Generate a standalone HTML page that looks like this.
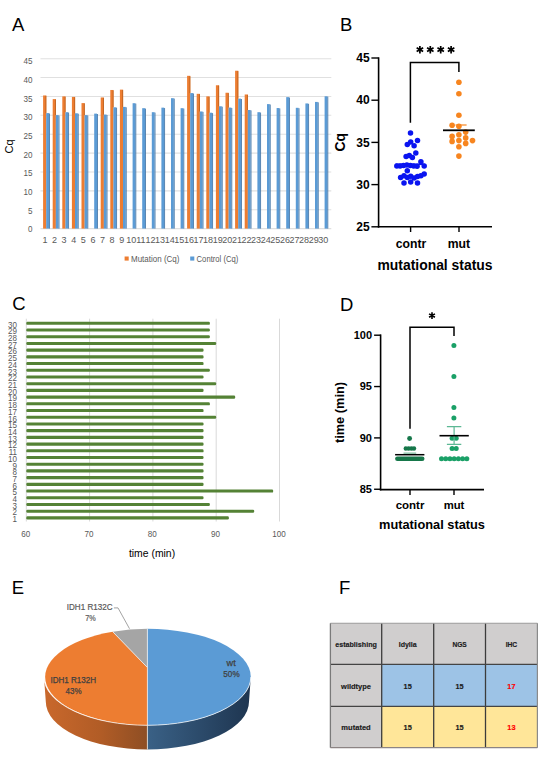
<!DOCTYPE html>
<html><head><meta charset="utf-8"><style>
html,body{margin:0;padding:0;background:#fff;width:550px;height:769px;overflow:hidden}
svg{display:block}
text{font-family:"Liberation Sans",sans-serif}
</style></head><body>
<svg width="550" height="769" viewBox="0 0 550 769">
<rect width="550" height="769" fill="#fff"/>
<g id="A">
<text x="12" y="31" font-size="18.5" fill="#000">A</text>
<line x1="40.5" x2="331.3" y1="228.60" y2="228.60" stroke="#e0e0e0" stroke-width="1.1"/>
<text transform="translate(32.6,232.19) scale(0.9,1)" font-size="9" fill="#595959" text-anchor="end">0</text>
<line x1="40.5" x2="331.3" y1="209.72" y2="209.72" stroke="#e0e0e0" stroke-width="1.1"/>
<text transform="translate(32.6,213.54) scale(0.9,1)" font-size="9" fill="#595959" text-anchor="end">5</text>
<line x1="40.5" x2="331.3" y1="190.84" y2="190.84" stroke="#e0e0e0" stroke-width="1.1"/>
<text transform="translate(32.6,194.88) scale(0.9,1)" font-size="9" fill="#595959" text-anchor="end">10</text>
<line x1="40.5" x2="331.3" y1="171.96" y2="171.96" stroke="#e0e0e0" stroke-width="1.1"/>
<text transform="translate(32.6,176.23) scale(0.9,1)" font-size="9" fill="#595959" text-anchor="end">15</text>
<line x1="40.5" x2="331.3" y1="153.08" y2="153.08" stroke="#e0e0e0" stroke-width="1.1"/>
<text transform="translate(32.6,157.57) scale(0.9,1)" font-size="9" fill="#595959" text-anchor="end">20</text>
<line x1="40.5" x2="331.3" y1="134.20" y2="134.20" stroke="#e0e0e0" stroke-width="1.1"/>
<text transform="translate(32.6,138.92) scale(0.9,1)" font-size="9" fill="#595959" text-anchor="end">25</text>
<line x1="40.5" x2="331.3" y1="115.32" y2="115.32" stroke="#e0e0e0" stroke-width="1.1"/>
<text transform="translate(32.6,120.27) scale(0.9,1)" font-size="9" fill="#595959" text-anchor="end">30</text>
<line x1="40.5" x2="331.3" y1="96.44" y2="96.44" stroke="#e0e0e0" stroke-width="1.1"/>
<text transform="translate(32.6,101.61) scale(0.9,1)" font-size="9" fill="#595959" text-anchor="end">35</text>
<line x1="40.5" x2="331.3" y1="77.56" y2="77.56" stroke="#e0e0e0" stroke-width="1.1"/>
<text transform="translate(32.6,82.95) scale(0.9,1)" font-size="9" fill="#595959" text-anchor="end">40</text>
<line x1="40.5" x2="331.3" y1="58.68" y2="58.68" stroke="#e0e0e0" stroke-width="1.1"/>
<text transform="translate(32.6,64.30) scale(0.9,1)" font-size="9" fill="#595959" text-anchor="end">45</text>
<rect x="43.10" y="95.46" width="3.2" height="133.14" fill="#ed7d31"/>
<rect x="45.50" y="95.86" width="0.8" height="17.23" fill="#b9601f"/>
<rect x="46.20" y="113.09" width="2.8" height="115.51" fill="#5b9bd5"/>
<rect x="49.00" y="113.49" width="0.85" height="115.11" fill="#3f73a6"/>
<text x="44.90" y="243" font-size="9" fill="#595959" text-anchor="middle">1</text>
<rect x="52.70" y="99.08" width="3.2" height="129.52" fill="#ed7d31"/>
<rect x="55.10" y="99.48" width="0.8" height="15.61" fill="#b9601f"/>
<rect x="55.80" y="115.09" width="2.8" height="113.51" fill="#5b9bd5"/>
<rect x="58.60" y="115.49" width="0.85" height="113.11" fill="#3f73a6"/>
<text x="54.50" y="243" font-size="9" fill="#595959" text-anchor="middle">2</text>
<rect x="62.30" y="96.36" width="3.2" height="132.24" fill="#ed7d31"/>
<rect x="64.70" y="96.76" width="0.8" height="15.42" fill="#b9601f"/>
<rect x="65.40" y="112.19" width="2.8" height="116.41" fill="#5b9bd5"/>
<rect x="68.20" y="112.59" width="0.85" height="116.01" fill="#3f73a6"/>
<text x="64.10" y="243" font-size="9" fill="#595959" text-anchor="middle">3</text>
<rect x="71.90" y="96.89" width="3.2" height="131.71" fill="#ed7d31"/>
<rect x="74.30" y="97.29" width="0.8" height="15.99" fill="#b9601f"/>
<rect x="75.00" y="113.28" width="2.8" height="115.32" fill="#5b9bd5"/>
<rect x="77.80" y="113.68" width="0.85" height="114.92" fill="#3f73a6"/>
<text x="73.70" y="243" font-size="9" fill="#595959" text-anchor="middle">4</text>
<rect x="81.50" y="103.09" width="3.2" height="125.51" fill="#ed7d31"/>
<rect x="83.90" y="103.49" width="0.8" height="11.61" fill="#b9601f"/>
<rect x="84.60" y="115.09" width="2.8" height="113.51" fill="#5b9bd5"/>
<rect x="87.40" y="115.49" width="0.85" height="113.11" fill="#3f73a6"/>
<text x="83.30" y="243" font-size="9" fill="#595959" text-anchor="middle">5</text>
<rect x="94.20" y="113.62" width="2.8" height="114.98" fill="#5b9bd5"/>
<rect x="97.00" y="114.02" width="0.85" height="114.58" fill="#3f73a6"/>
<text x="92.90" y="243" font-size="9" fill="#595959" text-anchor="middle">6</text>
<rect x="100.70" y="97.46" width="3.2" height="131.14" fill="#ed7d31"/>
<rect x="103.10" y="97.86" width="0.8" height="16.71" fill="#b9601f"/>
<rect x="103.80" y="114.56" width="2.8" height="114.04" fill="#5b9bd5"/>
<rect x="106.60" y="114.96" width="0.85" height="113.64" fill="#3f73a6"/>
<text x="102.50" y="243" font-size="9" fill="#595959" text-anchor="middle">7</text>
<rect x="110.30" y="89.98" width="3.2" height="138.62" fill="#ed7d31"/>
<rect x="112.70" y="90.38" width="0.8" height="16.89" fill="#b9601f"/>
<rect x="113.40" y="107.28" width="2.8" height="121.32" fill="#5b9bd5"/>
<rect x="116.20" y="107.68" width="0.85" height="120.92" fill="#3f73a6"/>
<text x="112.10" y="243" font-size="9" fill="#595959" text-anchor="middle">8</text>
<rect x="119.90" y="89.64" width="3.2" height="138.96" fill="#ed7d31"/>
<rect x="122.30" y="90.04" width="0.8" height="16.86" fill="#b9601f"/>
<rect x="123.00" y="106.90" width="2.8" height="121.70" fill="#5b9bd5"/>
<rect x="125.80" y="107.30" width="0.85" height="121.30" fill="#3f73a6"/>
<text x="121.70" y="243" font-size="9" fill="#595959" text-anchor="middle">9</text>
<rect x="132.60" y="103.20" width="2.8" height="125.40" fill="#5b9bd5"/>
<rect x="135.40" y="103.60" width="0.85" height="125.00" fill="#3f73a6"/>
<text x="131.30" y="243" font-size="9" fill="#595959" text-anchor="middle">10</text>
<rect x="142.20" y="108.18" width="2.8" height="120.42" fill="#5b9bd5"/>
<rect x="145.00" y="108.58" width="0.85" height="120.02" fill="#3f73a6"/>
<text x="140.90" y="243" font-size="9" fill="#595959" text-anchor="middle">11</text>
<rect x="151.80" y="112.19" width="2.8" height="116.41" fill="#5b9bd5"/>
<rect x="154.60" y="112.59" width="0.85" height="116.01" fill="#3f73a6"/>
<text x="150.50" y="243" font-size="9" fill="#595959" text-anchor="middle">12</text>
<rect x="161.40" y="107.65" width="2.8" height="120.95" fill="#5b9bd5"/>
<rect x="164.20" y="108.05" width="0.85" height="120.55" fill="#3f73a6"/>
<text x="160.10" y="243" font-size="9" fill="#595959" text-anchor="middle">13</text>
<rect x="171.00" y="98.18" width="2.8" height="130.42" fill="#5b9bd5"/>
<rect x="173.80" y="98.58" width="0.85" height="130.02" fill="#3f73a6"/>
<text x="169.70" y="243" font-size="9" fill="#595959" text-anchor="middle">14</text>
<rect x="180.60" y="108.18" width="2.8" height="120.42" fill="#5b9bd5"/>
<rect x="183.40" y="108.58" width="0.85" height="120.02" fill="#3f73a6"/>
<text x="179.30" y="243" font-size="9" fill="#595959" text-anchor="middle">15</text>
<rect x="187.10" y="75.82" width="3.2" height="152.78" fill="#ed7d31"/>
<rect x="189.50" y="76.22" width="0.8" height="16.86" fill="#b9601f"/>
<rect x="190.20" y="93.08" width="2.8" height="135.52" fill="#5b9bd5"/>
<rect x="193.00" y="93.48" width="0.85" height="135.12" fill="#3f73a6"/>
<text x="188.90" y="243" font-size="9" fill="#595959" text-anchor="middle">16</text>
<rect x="196.70" y="93.83" width="3.2" height="134.77" fill="#ed7d31"/>
<rect x="199.10" y="94.23" width="0.8" height="17.23" fill="#b9601f"/>
<rect x="199.80" y="111.47" width="2.8" height="117.13" fill="#5b9bd5"/>
<rect x="202.60" y="111.87" width="0.85" height="116.73" fill="#3f73a6"/>
<text x="198.50" y="243" font-size="9" fill="#595959" text-anchor="middle">17</text>
<rect x="206.30" y="96.36" width="3.2" height="132.24" fill="#ed7d31"/>
<rect x="208.70" y="96.76" width="0.8" height="15.95" fill="#b9601f"/>
<rect x="209.40" y="112.71" width="2.8" height="115.89" fill="#5b9bd5"/>
<rect x="212.20" y="113.11" width="0.85" height="115.49" fill="#3f73a6"/>
<text x="208.10" y="243" font-size="9" fill="#595959" text-anchor="middle">18</text>
<rect x="215.90" y="85.26" width="3.2" height="143.34" fill="#ed7d31"/>
<rect x="218.30" y="85.66" width="0.8" height="20.59" fill="#b9601f"/>
<rect x="219.00" y="106.26" width="2.8" height="122.34" fill="#5b9bd5"/>
<rect x="221.80" y="106.66" width="0.85" height="121.94" fill="#3f73a6"/>
<text x="217.70" y="243" font-size="9" fill="#595959" text-anchor="middle">19</text>
<rect x="225.50" y="92.74" width="3.2" height="135.86" fill="#ed7d31"/>
<rect x="227.90" y="93.14" width="0.8" height="14.44" fill="#b9601f"/>
<rect x="228.60" y="107.58" width="2.8" height="121.02" fill="#5b9bd5"/>
<rect x="231.40" y="107.98" width="0.85" height="120.62" fill="#3f73a6"/>
<text x="227.30" y="243" font-size="9" fill="#595959" text-anchor="middle">20</text>
<rect x="235.10" y="70.73" width="3.2" height="157.87" fill="#ed7d31"/>
<rect x="237.50" y="71.13" width="0.8" height="27.50" fill="#b9601f"/>
<rect x="238.20" y="98.63" width="2.8" height="129.97" fill="#5b9bd5"/>
<rect x="241.00" y="99.03" width="0.85" height="129.57" fill="#3f73a6"/>
<text x="236.90" y="243" font-size="9" fill="#595959" text-anchor="middle">21</text>
<rect x="244.70" y="94.48" width="3.2" height="134.12" fill="#ed7d31"/>
<rect x="247.10" y="94.88" width="0.8" height="15.12" fill="#b9601f"/>
<rect x="247.80" y="110.00" width="2.8" height="118.60" fill="#5b9bd5"/>
<rect x="250.60" y="110.40" width="0.85" height="118.20" fill="#3f73a6"/>
<text x="246.50" y="243" font-size="9" fill="#595959" text-anchor="middle">22</text>
<rect x="257.40" y="112.19" width="2.8" height="116.41" fill="#5b9bd5"/>
<rect x="260.20" y="112.59" width="0.85" height="116.01" fill="#3f73a6"/>
<text x="256.10" y="243" font-size="9" fill="#595959" text-anchor="middle">23</text>
<rect x="267.00" y="104.11" width="2.8" height="124.49" fill="#5b9bd5"/>
<rect x="269.80" y="104.51" width="0.85" height="124.09" fill="#3f73a6"/>
<text x="265.70" y="243" font-size="9" fill="#595959" text-anchor="middle">24</text>
<rect x="276.60" y="108.03" width="2.8" height="120.57" fill="#5b9bd5"/>
<rect x="279.40" y="108.43" width="0.85" height="120.17" fill="#3f73a6"/>
<text x="275.30" y="243" font-size="9" fill="#595959" text-anchor="middle">25</text>
<rect x="286.20" y="97.12" width="2.8" height="131.48" fill="#5b9bd5"/>
<rect x="289.00" y="97.52" width="0.85" height="131.08" fill="#3f73a6"/>
<text x="284.90" y="243" font-size="9" fill="#595959" text-anchor="middle">26</text>
<rect x="295.80" y="107.81" width="2.8" height="120.79" fill="#5b9bd5"/>
<rect x="298.60" y="108.21" width="0.85" height="120.39" fill="#3f73a6"/>
<text x="294.50" y="243" font-size="9" fill="#595959" text-anchor="middle">27</text>
<rect x="305.40" y="103.43" width="2.8" height="125.17" fill="#5b9bd5"/>
<rect x="308.20" y="103.83" width="0.85" height="124.77" fill="#3f73a6"/>
<text x="304.10" y="243" font-size="9" fill="#595959" text-anchor="middle">28</text>
<rect x="315.00" y="101.92" width="2.8" height="126.68" fill="#5b9bd5"/>
<rect x="317.80" y="102.32" width="0.85" height="126.28" fill="#3f73a6"/>
<text x="313.70" y="243" font-size="9" fill="#595959" text-anchor="middle">29</text>
<rect x="324.60" y="96.25" width="2.8" height="132.35" fill="#5b9bd5"/>
<rect x="327.40" y="96.65" width="0.85" height="131.95" fill="#3f73a6"/>
<text x="323.30" y="243" font-size="9" fill="#595959" text-anchor="middle">30</text>
<text transform="translate(12.7,146.4) rotate(-90)" font-size="11" fill="#000" text-anchor="middle">Cq</text>
<rect x="124.6" y="256.5" width="4.1" height="4.1" fill="#ed7d31"/>
<text x="131" y="261.9" font-size="8.2" fill="#595959" textLength="48.5" lengthAdjust="spacingAndGlyphs">Mutation (Cq)</text>
<rect x="190.2" y="256.5" width="4.1" height="4.1" fill="#5b9bd5"/>
<text x="196.6" y="261.9" font-size="8.2" fill="#595959" textLength="41.7" lengthAdjust="spacingAndGlyphs">Control (Cq)</text>
</g>
<g id="B">
<text x="340" y="31.2" font-size="18.5" fill="#000">B</text>
<line x1="378.6" x2="378.6" y1="57.3" y2="227.6" stroke="#000" stroke-width="1.6"/>
<line x1="377.8" x2="492" y1="226.8" y2="226.8" stroke="#000" stroke-width="1.6"/>
<line x1="371.4" x2="378.6" y1="226.80" y2="226.80" stroke="#000" stroke-width="1.4"/>
<text x="369.6" y="230.90" font-size="12" font-weight="bold" fill="#000" text-anchor="end">25</text>
<line x1="371.4" x2="378.6" y1="184.60" y2="184.60" stroke="#000" stroke-width="1.4"/>
<text x="369.6" y="188.70" font-size="12" font-weight="bold" fill="#000" text-anchor="end">30</text>
<line x1="371.4" x2="378.6" y1="142.40" y2="142.40" stroke="#000" stroke-width="1.4"/>
<text x="369.6" y="146.50" font-size="12" font-weight="bold" fill="#000" text-anchor="end">35</text>
<line x1="371.4" x2="378.6" y1="100.20" y2="100.20" stroke="#000" stroke-width="1.4"/>
<text x="369.6" y="104.30" font-size="12" font-weight="bold" fill="#000" text-anchor="end">40</text>
<line x1="371.4" x2="378.6" y1="58.00" y2="58.00" stroke="#000" stroke-width="1.4"/>
<text x="369.6" y="62.10" font-size="12" font-weight="bold" fill="#000" text-anchor="end">45</text>
<line x1="410.6" x2="410.6" y1="226.8" y2="232" stroke="#000" stroke-width="1.4"/>
<line x1="459.0" x2="459.0" y1="226.8" y2="232" stroke="#000" stroke-width="1.4"/>
<text x="411" y="247.9" font-size="12.2" font-weight="bold" fill="#000" text-anchor="middle">contr</text>
<text x="458.8" y="247.9" font-size="12.2" font-weight="bold" fill="#000" text-anchor="middle">mut</text>
<text x="435" y="269.8" font-size="13.9" font-weight="bold" fill="#000" text-anchor="middle">mutational status</text>
<text transform="translate(344.8,142.2) rotate(-90)" font-size="14" font-weight="bold" fill="#000" text-anchor="middle">Cq</text>
<path d="M410.4,122.7 V62.4 H458.9 V72.1" fill="none" stroke="#000" stroke-width="1.5"/>
<path d="M419.90,45.95L419.90,53.45M416.65,47.83L423.15,51.58M423.15,47.83L416.65,51.58" stroke="#000" stroke-width="1.7" fill="none"/>
<path d="M430.30,45.95L430.30,53.45M427.05,47.83L433.55,51.58M433.55,47.83L427.05,51.58" stroke="#000" stroke-width="1.7" fill="none"/>
<path d="M440.70,45.95L440.70,53.45M437.45,47.83L443.95,51.58M443.95,47.83L437.45,51.58" stroke="#000" stroke-width="1.7" fill="none"/>
<path d="M451.10,45.95L451.10,53.45M447.85,47.83L454.35,51.58M454.35,47.83L447.85,51.58" stroke="#000" stroke-width="1.7" fill="none"/>
<circle cx="410.5" cy="133.0" r="2.75" fill="#0a14f0"/>
<circle cx="417.5" cy="140.5" r="2.75" fill="#0a14f0"/>
<circle cx="410.7" cy="141.9" r="2.75" fill="#0a14f0"/>
<circle cx="407.3" cy="144.6" r="2.75" fill="#0a14f0"/>
<circle cx="414.1" cy="145.7" r="2.75" fill="#0a14f0"/>
<circle cx="415.8" cy="152.9" r="2.75" fill="#0a14f0"/>
<circle cx="406.1" cy="156.5" r="2.75" fill="#0a14f0"/>
<circle cx="409.3" cy="155.6" r="2.75" fill="#0a14f0"/>
<circle cx="412.4" cy="157.4" r="2.75" fill="#0a14f0"/>
<circle cx="420.9" cy="161.8" r="2.75" fill="#0a14f0"/>
<circle cx="396.8" cy="166" r="2.75" fill="#0a14f0"/>
<circle cx="400.1" cy="166" r="2.75" fill="#0a14f0"/>
<circle cx="403.5" cy="165.5" r="2.75" fill="#0a14f0"/>
<circle cx="406.9" cy="165" r="2.75" fill="#0a14f0"/>
<circle cx="410.3" cy="165.5" r="2.75" fill="#0a14f0"/>
<circle cx="413.7" cy="166" r="2.75" fill="#0a14f0"/>
<circle cx="417.1" cy="166.3" r="2.75" fill="#0a14f0"/>
<circle cx="424.2" cy="166" r="2.75" fill="#0a14f0"/>
<circle cx="407.3" cy="170.7" r="2.75" fill="#0a14f0"/>
<circle cx="400.6" cy="177.4" r="2.75" fill="#0a14f0"/>
<circle cx="404" cy="175.7" r="2.75" fill="#0a14f0"/>
<circle cx="407.3" cy="177.4" r="2.75" fill="#0a14f0"/>
<circle cx="410.7" cy="176.2" r="2.75" fill="#0a14f0"/>
<circle cx="414.1" cy="177.9" r="2.75" fill="#0a14f0"/>
<circle cx="417.5" cy="176.6" r="2.75" fill="#0a14f0"/>
<circle cx="420.9" cy="175.7" r="2.75" fill="#0a14f0"/>
<circle cx="424.2" cy="174" r="2.75" fill="#0a14f0"/>
<circle cx="404" cy="182.9" r="2.75" fill="#0a14f0"/>
<circle cx="410.7" cy="182.1" r="2.75" fill="#0a14f0"/>
<circle cx="417.5" cy="182.9" r="2.75" fill="#0a14f0"/>
<line x1="395.5" x2="424.5" y1="164.3" y2="164.3" stroke="#0a14f0" stroke-width="1.6"/>
<circle cx="458.9" cy="82.3" r="2.8" fill="#f7851f"/>
<circle cx="458.9" cy="93.7" r="2.8" fill="#f7851f"/>
<circle cx="458.9" cy="115.2" r="2.8" fill="#f7851f"/>
<circle cx="452.1" cy="125.3" r="2.8" fill="#f7851f"/>
<circle cx="458.9" cy="126.2" r="2.8" fill="#f7851f"/>
<circle cx="465.7" cy="132.1" r="2.8" fill="#f7851f"/>
<circle cx="458.9" cy="134.8" r="2.8" fill="#f7851f"/>
<circle cx="452.1" cy="136.4" r="2.8" fill="#f7851f"/>
<circle cx="465.7" cy="137.9" r="2.8" fill="#f7851f"/>
<circle cx="452.1" cy="141.4" r="2.8" fill="#f7851f"/>
<circle cx="458.9" cy="140.6" r="2.8" fill="#f7851f"/>
<circle cx="465.7" cy="143.4" r="2.8" fill="#f7851f"/>
<circle cx="472.5" cy="140.6" r="2.8" fill="#f7851f"/>
<circle cx="458.9" cy="146.7" r="2.8" fill="#f7851f"/>
<circle cx="458.9" cy="156.1" r="2.8" fill="#f7851f"/>
<line x1="455.5" x2="466.6" y1="125" y2="125" stroke="#f7851f" stroke-width="1.2"/>
<line x1="443" x2="474.8" y1="130.3" y2="130.3" stroke="#000" stroke-width="1.8"/>
</g>
<g id="C">
<text x="12.3" y="310.4" font-size="18.5" fill="#000">C</text>
<line x1="26.30" x2="26.30" y1="318.7" y2="521.5" stroke="#d9d9d9" stroke-width="1"/>
<text transform="translate(25.70,537.2) scale(0.9,1)" font-size="9" fill="#595959" text-anchor="middle">60</text>
<line x1="89.60" x2="89.60" y1="318.7" y2="521.5" stroke="#d9d9d9" stroke-width="1"/>
<text transform="translate(89.00,537.2) scale(0.9,1)" font-size="9" fill="#595959" text-anchor="middle">70</text>
<line x1="152.90" x2="152.90" y1="318.7" y2="521.5" stroke="#d9d9d9" stroke-width="1"/>
<text transform="translate(152.30,537.2) scale(0.9,1)" font-size="9" fill="#595959" text-anchor="middle">80</text>
<line x1="216.20" x2="216.20" y1="318.7" y2="521.5" stroke="#d9d9d9" stroke-width="1"/>
<text transform="translate(215.60,537.2) scale(0.9,1)" font-size="9" fill="#595959" text-anchor="middle">90</text>
<line x1="279.50" x2="279.50" y1="318.7" y2="521.5" stroke="#d9d9d9" stroke-width="1"/>
<text transform="translate(278.90,537.2) scale(0.9,1)" font-size="9" fill="#595959" text-anchor="middle">100</text>
<rect x="26.3" y="516.34" width="202.56" height="3.1" rx="1.2" fill="#548235"/>
<text transform="translate(17,522.19) scale(0.82,1)" font-size="9.8" fill="#595959" text-anchor="end">1</text>
<rect x="26.3" y="509.63" width="227.88" height="3.1" rx="1.2" fill="#548235"/>
<text transform="translate(17,515.48) scale(0.82,1)" font-size="9.8" fill="#595959" text-anchor="end">2</text>
<rect x="26.3" y="502.92" width="183.57" height="3.1" rx="1.2" fill="#548235"/>
<text transform="translate(17,508.77) scale(0.82,1)" font-size="9.8" fill="#595959" text-anchor="end">3</text>
<rect x="26.3" y="496.21" width="177.24" height="3.1" rx="1.2" fill="#548235"/>
<text transform="translate(17,502.06) scale(0.82,1)" font-size="9.8" fill="#595959" text-anchor="end">4</text>
<rect x="26.3" y="489.50" width="246.87" height="3.1" rx="1.2" fill="#548235"/>
<text transform="translate(17,495.35) scale(0.82,1)" font-size="9.8" fill="#595959" text-anchor="end">5</text>
<rect x="26.3" y="482.79" width="177.24" height="3.1" rx="1.2" fill="#548235"/>
<text transform="translate(17,488.64) scale(0.82,1)" font-size="9.8" fill="#595959" text-anchor="end">6</text>
<rect x="26.3" y="476.08" width="177.24" height="3.1" rx="1.2" fill="#548235"/>
<text transform="translate(17,481.93) scale(0.82,1)" font-size="9.8" fill="#595959" text-anchor="end">7</text>
<rect x="26.3" y="469.37" width="177.24" height="3.1" rx="1.2" fill="#548235"/>
<text transform="translate(17,475.22) scale(0.82,1)" font-size="9.8" fill="#595959" text-anchor="end">8</text>
<rect x="26.3" y="462.66" width="177.24" height="3.1" rx="1.2" fill="#548235"/>
<text transform="translate(17,468.51) scale(0.82,1)" font-size="9.8" fill="#595959" text-anchor="end">9</text>
<rect x="26.3" y="455.95" width="177.24" height="3.1" rx="1.2" fill="#548235"/>
<text transform="translate(17,461.80) scale(0.82,1)" font-size="9.8" fill="#595959" text-anchor="end">10</text>
<rect x="26.3" y="449.24" width="177.24" height="3.1" rx="1.2" fill="#548235"/>
<text transform="translate(17,455.09) scale(0.82,1)" font-size="9.8" fill="#595959" text-anchor="end">11</text>
<rect x="26.3" y="442.53" width="177.24" height="3.1" rx="1.2" fill="#548235"/>
<text transform="translate(17,448.38) scale(0.82,1)" font-size="9.8" fill="#595959" text-anchor="end">12</text>
<rect x="26.3" y="435.82" width="177.24" height="3.1" rx="1.2" fill="#548235"/>
<text transform="translate(17,441.67) scale(0.82,1)" font-size="9.8" fill="#595959" text-anchor="end">13</text>
<rect x="26.3" y="429.11" width="177.24" height="3.1" rx="1.2" fill="#548235"/>
<text transform="translate(17,434.96) scale(0.82,1)" font-size="9.8" fill="#595959" text-anchor="end">14</text>
<rect x="26.3" y="422.40" width="177.24" height="3.1" rx="1.2" fill="#548235"/>
<text transform="translate(17,428.25) scale(0.82,1)" font-size="9.8" fill="#595959" text-anchor="end">15</text>
<rect x="26.3" y="415.69" width="189.90" height="3.1" rx="1.2" fill="#548235"/>
<text transform="translate(17,421.54) scale(0.82,1)" font-size="9.8" fill="#595959" text-anchor="end">16</text>
<rect x="26.3" y="408.98" width="177.24" height="3.1" rx="1.2" fill="#548235"/>
<text transform="translate(17,414.83) scale(0.82,1)" font-size="9.8" fill="#595959" text-anchor="end">17</text>
<rect x="26.3" y="402.27" width="183.57" height="3.1" rx="1.2" fill="#548235"/>
<text transform="translate(17,408.12) scale(0.82,1)" font-size="9.8" fill="#595959" text-anchor="end">18</text>
<rect x="26.3" y="395.56" width="208.89" height="3.1" rx="1.2" fill="#548235"/>
<text transform="translate(17,401.41) scale(0.82,1)" font-size="9.8" fill="#595959" text-anchor="end">19</text>
<rect x="26.3" y="388.85" width="177.24" height="3.1" rx="1.2" fill="#548235"/>
<text transform="translate(17,394.70) scale(0.82,1)" font-size="9.8" fill="#595959" text-anchor="end">20</text>
<rect x="26.3" y="382.14" width="189.90" height="3.1" rx="1.2" fill="#548235"/>
<text transform="translate(17,387.99) scale(0.82,1)" font-size="9.8" fill="#595959" text-anchor="end">21</text>
<rect x="26.3" y="375.43" width="177.24" height="3.1" rx="1.2" fill="#548235"/>
<text transform="translate(17,381.28) scale(0.82,1)" font-size="9.8" fill="#595959" text-anchor="end">22</text>
<rect x="26.3" y="368.72" width="183.57" height="3.1" rx="1.2" fill="#548235"/>
<text transform="translate(17,374.57) scale(0.82,1)" font-size="9.8" fill="#595959" text-anchor="end">23</text>
<rect x="26.3" y="362.01" width="177.24" height="3.1" rx="1.2" fill="#548235"/>
<text transform="translate(17,367.86) scale(0.82,1)" font-size="9.8" fill="#595959" text-anchor="end">24</text>
<rect x="26.3" y="355.30" width="177.24" height="3.1" rx="1.2" fill="#548235"/>
<text transform="translate(17,361.15) scale(0.82,1)" font-size="9.8" fill="#595959" text-anchor="end">25</text>
<rect x="26.3" y="348.59" width="177.24" height="3.1" rx="1.2" fill="#548235"/>
<text transform="translate(17,354.44) scale(0.82,1)" font-size="9.8" fill="#595959" text-anchor="end">26</text>
<rect x="26.3" y="341.88" width="189.90" height="3.1" rx="1.2" fill="#548235"/>
<text transform="translate(17,347.73) scale(0.82,1)" font-size="9.8" fill="#595959" text-anchor="end">27</text>
<rect x="26.3" y="335.17" width="183.57" height="3.1" rx="1.2" fill="#548235"/>
<text transform="translate(17,341.02) scale(0.82,1)" font-size="9.8" fill="#595959" text-anchor="end">28</text>
<rect x="26.3" y="328.46" width="183.57" height="3.1" rx="1.2" fill="#548235"/>
<text transform="translate(17,334.31) scale(0.82,1)" font-size="9.8" fill="#595959" text-anchor="end">29</text>
<rect x="26.3" y="321.75" width="183.57" height="3.1" rx="1.2" fill="#548235"/>
<text transform="translate(17,327.60) scale(0.82,1)" font-size="9.8" fill="#595959" text-anchor="end">30</text>
<text x="152" y="557" font-size="10.4" fill="#000" text-anchor="middle">time (min)</text>
</g>
<g id="D">
<text x="340" y="311.2" font-size="18.5" fill="#000">D</text>
<line x1="380.6" x2="380.6" y1="334.4" y2="490.4" stroke="#000" stroke-width="1.6"/>
<line x1="379.8" x2="484" y1="489.6" y2="489.6" stroke="#000" stroke-width="1.6"/>
<line x1="374.1" x2="380.6" y1="489.25" y2="489.25" stroke="#000" stroke-width="1.4"/>
<text x="372" y="493.15" font-size="11" font-weight="bold" fill="#000" text-anchor="end">85</text>
<line x1="374.1" x2="380.6" y1="437.90" y2="437.90" stroke="#000" stroke-width="1.4"/>
<text x="372" y="441.80" font-size="11" font-weight="bold" fill="#000" text-anchor="end">90</text>
<line x1="374.1" x2="380.6" y1="386.55" y2="386.55" stroke="#000" stroke-width="1.4"/>
<text x="372" y="390.45" font-size="11" font-weight="bold" fill="#000" text-anchor="end">95</text>
<line x1="374.1" x2="380.6" y1="335.20" y2="335.20" stroke="#000" stroke-width="1.4"/>
<text x="372" y="339.10" font-size="11" font-weight="bold" fill="#000" text-anchor="end">100</text>
<line x1="410.0" x2="410.0" y1="489.6" y2="495" stroke="#000" stroke-width="1.4"/>
<line x1="454.0" x2="454.0" y1="489.6" y2="495" stroke="#000" stroke-width="1.4"/>
<text x="410" y="509.4" font-size="11.5" font-weight="bold" fill="#000" text-anchor="middle">contr</text>
<text x="454" y="509.4" font-size="11.3" font-weight="bold" fill="#000" text-anchor="middle">mut</text>
<text x="432" y="529" font-size="12.8" font-weight="bold" fill="#000" text-anchor="middle">mutational status</text>
<text transform="translate(343.8,412.5) rotate(-90)" font-size="12.8" font-weight="bold" fill="#000" text-anchor="middle">time (min)</text>
<path d="M410,428.8 V327.2 H454 V336" fill="none" stroke="#000" stroke-width="1.5"/>
<path d="M432.00,312.20L432.00,319.00M429.06,313.90L434.94,317.30M434.94,313.90L429.06,317.30" stroke="#000" stroke-width="1.6" fill="none"/>
<circle cx="409.6" cy="438.5" r="2.45" fill="#16774a"/>
<circle cx="405.8" cy="448.5" r="2.2" fill="#16774a"/>
<circle cx="408.6" cy="448.5" r="2.2" fill="#16774a"/>
<circle cx="411.4" cy="448.5" r="2.2" fill="#16774a"/>
<circle cx="414.0" cy="448.5" r="2.2" fill="#16774a"/>
<rect x="395.1" y="456.4" width="29.4" height="4.6" rx="2.3" fill="#16774a"/>
<line x1="403.5" x2="416.2" y1="453.1" y2="453.1" stroke="#5fae88" stroke-width="1"/>
<line x1="395.1" x2="424.4" y1="454.7" y2="454.7" stroke="#000" stroke-width="1.5"/>
<circle cx="453.9" cy="345.6" r="2.5" fill="#1aa067"/>
<circle cx="453.9" cy="376.5" r="2.5" fill="#1aa067"/>
<circle cx="453.9" cy="407.5" r="2.5" fill="#1aa067"/>
<circle cx="453.9" cy="417.9" r="2.5" fill="#1aa067"/>
<circle cx="452.1" cy="438.2" r="2.5" fill="#1aa067"/>
<circle cx="452.1" cy="448.6" r="2.5" fill="#1aa067"/>
<circle cx="456.2" cy="438.2" r="2.5" fill="#1aa067"/>
<circle cx="456.2" cy="448.6" r="2.5" fill="#1aa067"/>
<circle cx="441.50" cy="458.8" r="2.5" fill="#1aa067"/>
<circle cx="445.72" cy="458.8" r="2.5" fill="#1aa067"/>
<circle cx="449.94" cy="458.8" r="2.5" fill="#1aa067"/>
<circle cx="454.16" cy="458.8" r="2.5" fill="#1aa067"/>
<circle cx="458.38" cy="458.8" r="2.5" fill="#1aa067"/>
<circle cx="462.60" cy="458.8" r="2.5" fill="#1aa067"/>
<circle cx="466.82" cy="458.8" r="2.5" fill="#1aa067"/>
<path d="M446.9,426.6 H461.3 M454.1,426.6 V444.4 M446.9,444.4 H461.3" stroke="#5cb894" stroke-width="1.2" fill="none"/>
<line x1="439.5" x2="468.8" y1="435.7" y2="435.7" stroke="#000" stroke-width="1.6"/>
</g>
<g id="E">
<text x="11.8" y="593.6" font-size="18.5" fill="#000">E</text>
<defs>
<linearGradient id="gO" x1="0" x2="1" y1="0" y2="0"><stop offset="0" stop-color="#c9682c"/><stop offset="0.55" stop-color="#b15c26"/><stop offset="1" stop-color="#8e4e24"/></linearGradient>
<linearGradient id="gB" x1="0" x2="1" y1="0" y2="0"><stop offset="0" stop-color="#3a6186"/><stop offset="1" stop-color="#1e3550"/></linearGradient>
</defs>
<path d="M44.0,677.0 A103.4,48.3 0 0 0 147.4,725.3 L147.4,749.4 A101.6,47.6 0 0 1 45.80000000000001,701.8 Z" fill="url(#gO)"/>
<path d="M147.4,725.3 A103.4,48.3 0 0 0 250.8,677.0 L249.0,701.8 A101.6,47.6 0 0 1 147.4,749.4 Z" fill="url(#gB)"/>
<line x1="147.4" x2="147.4" y1="725.3" y2="749.4" stroke="#f0e6dc" stroke-width="0.8"/>
<path d="M147.4,667.5 L147.4,628.7 A103.4,48.3 0 0 1 147.4,725.3 Z" fill="#5b9bd5"/>
<path d="M147.4,667.5 L147.4,725.3 A103.4,48.3 0 0 1 112.7,631.7 Z" fill="#ed7d31"/>
<path d="M147.4,667.5 L112.7,631.7 A103.4,48.3 0 0 1 147.4,628.7 Z" fill="#a5a5a5"/>
<path d="M112.7,631.7 L147.4,667.5 L147.4,628.7 M147.4,667.5 L147.4,725.3" stroke="#fff" stroke-width="0.8" fill="none" opacity="0.8"/>
<path d="M44.0,677.0 A103.4,48.3 0 0 0 250.8,677.0" stroke="#fff" stroke-width="0.9" fill="none" opacity="0.8"/>
<text x="231.2" y="665.9" font-size="9.2" fill="#404040" stroke="#404040" stroke-width="0.25" text-anchor="middle">wt</text>
<text x="231.5" y="677.4" font-size="9" fill="#404040" stroke="#404040" stroke-width="0.25" text-anchor="middle" textLength="16.3" lengthAdjust="spacingAndGlyphs">50%</text>
<text x="73.3" y="682.9" font-size="8.6" fill="#404040" stroke="#404040" stroke-width="0.25" text-anchor="middle" textLength="45.6" lengthAdjust="spacingAndGlyphs">IDH1 R132H</text>
<text x="73.5" y="694.2" font-size="9" fill="#404040" stroke="#404040" stroke-width="0.25" text-anchor="middle" textLength="16" lengthAdjust="spacingAndGlyphs">43%</text>
<text x="89.65" y="609.6" font-size="8.6" fill="#595959" stroke="#595959" stroke-width="0.2" text-anchor="middle" textLength="45.7" lengthAdjust="spacingAndGlyphs">IDH1 R132C</text>
<text x="90.5" y="620.5" font-size="9" fill="#595959" stroke="#595959" stroke-width="0.2" text-anchor="middle" textLength="10.5" lengthAdjust="spacingAndGlyphs">7%</text>
<path d="M113.9,607.9 H118 L129.5,628.7" stroke="#8c8c8c" stroke-width="0.8" fill="none"/>
</g>
<g id="F">
<text x="339" y="594.3" font-size="18.5" fill="#000">F</text>
<rect x="330.4" y="623.3" width="51.30" height="41.00" fill="#d0cece"/>
<rect x="381.7" y="623.3" width="52.00" height="41.00" fill="#d0cece"/>
<rect x="433.7" y="623.3" width="51.80" height="41.00" fill="#d0cece"/>
<rect x="485.5" y="623.3" width="51.90" height="41.00" fill="#d0cece"/>
<rect x="330.4" y="664.3" width="51.30" height="42.00" fill="#d0cece"/>
<rect x="381.7" y="664.3" width="52.00" height="42.00" fill="#9dc3e6"/>
<rect x="433.7" y="664.3" width="51.80" height="42.00" fill="#9dc3e6"/>
<rect x="485.5" y="664.3" width="51.90" height="42.00" fill="#9dc3e6"/>
<rect x="330.4" y="706.3" width="51.30" height="41.40" fill="#d0cece"/>
<rect x="381.7" y="706.3" width="52.00" height="41.40" fill="#ffe699"/>
<rect x="433.7" y="706.3" width="51.80" height="41.40" fill="#ffe699"/>
<rect x="485.5" y="706.3" width="51.90" height="41.40" fill="#ffe699"/>
<text x="356.05" y="647.1" font-size="7.7" font-weight="bold" fill="#1a1a1a" stroke="#1a1a1a" stroke-width="0.15" text-anchor="middle" textLength="41.6" lengthAdjust="spacingAndGlyphs">establishing</text>
<text x="407.70" y="647.1" font-size="7.7" font-weight="bold" fill="#1a1a1a" stroke="#1a1a1a" stroke-width="0.15" text-anchor="middle" textLength="18" lengthAdjust="spacingAndGlyphs">Idylla</text>
<text x="459.60" y="647.1" font-size="7.7" font-weight="bold" fill="#1a1a1a" stroke="#1a1a1a" stroke-width="0.15" text-anchor="middle" textLength="14.4" lengthAdjust="spacingAndGlyphs">NGS</text>
<text x="511.45" y="647.1" font-size="7.7" font-weight="bold" fill="#1a1a1a" stroke="#1a1a1a" stroke-width="0.15" text-anchor="middle" textLength="11.6" lengthAdjust="spacingAndGlyphs">IHC</text>
<text x="356.05" y="688.9" font-size="7.7" font-weight="bold" fill="#1a1a1a" stroke="#1a1a1a" stroke-width="0.15" text-anchor="middle" textLength="30" lengthAdjust="spacingAndGlyphs">wildtype</text>
<text x="407.70" y="688.9" font-size="7.6" font-weight="bold" fill="#1a1a1a" stroke="#1a1a1a" stroke-width="0.15" text-anchor="middle" textLength="8.2" lengthAdjust="spacingAndGlyphs">15</text>
<text x="459.60" y="688.9" font-size="7.6" font-weight="bold" fill="#1a1a1a" stroke="#1a1a1a" stroke-width="0.15" text-anchor="middle" textLength="8.2" lengthAdjust="spacingAndGlyphs">15</text>
<text x="511.45" y="688.9" font-size="7.6" font-weight="bold" fill="#ff0000" stroke="#ff0000" stroke-width="0.15" text-anchor="middle" textLength="8.2" lengthAdjust="spacingAndGlyphs">17</text>
<text x="356.05" y="730.1" font-size="7.7" font-weight="bold" fill="#1a1a1a" stroke="#1a1a1a" stroke-width="0.15" text-anchor="middle" textLength="29.4" lengthAdjust="spacingAndGlyphs">mutated</text>
<text x="407.70" y="730.1" font-size="7.6" font-weight="bold" fill="#1a1a1a" stroke="#1a1a1a" stroke-width="0.15" text-anchor="middle" textLength="8.2" lengthAdjust="spacingAndGlyphs">15</text>
<text x="459.60" y="730.1" font-size="7.6" font-weight="bold" fill="#1a1a1a" stroke="#1a1a1a" stroke-width="0.15" text-anchor="middle" textLength="8.2" lengthAdjust="spacingAndGlyphs">15</text>
<text x="511.45" y="730.1" font-size="7.6" font-weight="bold" fill="#ff0000" stroke="#ff0000" stroke-width="0.15" text-anchor="middle" textLength="8.2" lengthAdjust="spacingAndGlyphs">13</text>
<line x1="381.7" x2="381.7" y1="623.3" y2="747.7" stroke="#3c3c3c" stroke-width="1.3"/>
<line x1="433.7" x2="433.7" y1="623.3" y2="747.7" stroke="#3c3c3c" stroke-width="1.3"/>
<line x1="485.5" x2="485.5" y1="623.3" y2="747.7" stroke="#3c3c3c" stroke-width="1.3"/>
<line x1="330.4" x2="537.4" y1="664.3" y2="664.3" stroke="#444" stroke-width="1.2"/>
<line x1="330.4" x2="537.4" y1="706.3" y2="706.3" stroke="#444" stroke-width="1.2"/>
<line x1="330.4" x2="537.4" y1="623.3" y2="623.3" stroke="#9a9a9a" stroke-width="1.1"/>
<line x1="330.4" x2="330.4" y1="623.3" y2="747.7" stroke="#7a7a7a" stroke-width="1.3"/>
<line x1="537.4" x2="537.4" y1="623.3" y2="747.7" stroke="#8a8a8a" stroke-width="1.2"/>
<line x1="330.4" x2="537.4" y1="747.7" y2="747.7" stroke="#8c8484" stroke-width="1.2"/>
</g>
</svg>
</body></html>
